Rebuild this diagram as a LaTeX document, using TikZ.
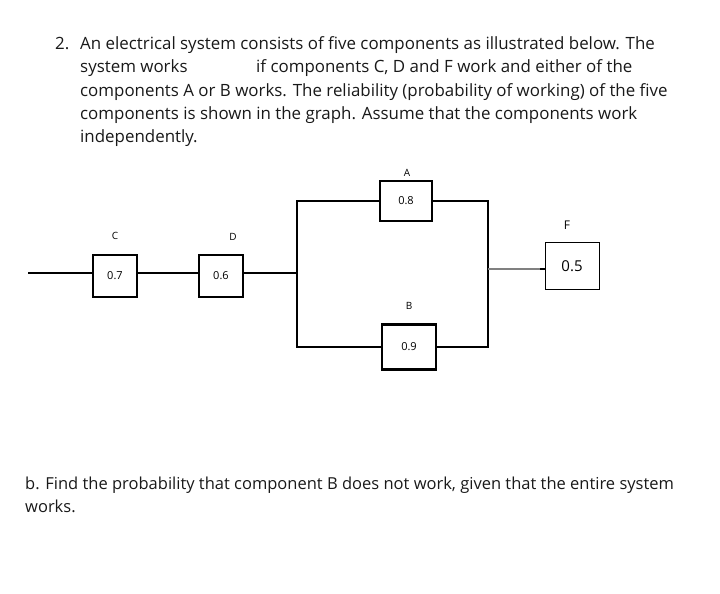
\documentclass[tikz,border=0pt]{standalone}
\usepackage{fontspec}
\setmainfont{Open Sans}
\begin{document}
\begin{tikzpicture}[x=1pt,y=-1pt,
  txt/.style={anchor=base west,inner sep=0,font=\fontsize{16.9}{22}\selectfont,text=black!90},
  box/.style={draw,line width=2.4pt,minimum width=44pt,minimum height=42pt,inner sep=0,font=\fontsize{11}{13}\selectfont},
  lbl/.style={inner sep=0,font=\fontsize{10}{12}\selectfont},
  wire/.style={line width=2.4pt}]
\useasboundingbox (0,0) rectangle (720,594);
\node[txt] (n2) at (55,50) {2.};
\node[txt] (l1) at (80,50) {An electrical system consists of five components as illustrated below. The};
\node[txt] (l2a) at (80,73) {system works};
\node[txt] (l2b) at (256,73) {if components C, D and F work and either of the};
\node[txt] (l3) at (80,96) {components A or B works. The reliability (probability of working) of the five};
\node[txt] (l4) at (80,119) {components is shown in the graph. Assume that the components work};
\node[txt] (l5) at (80,142) {independently.};
\node[txt,font=\fontsize{16.5}{22}\selectfont] (b1) at (25,489) {b. Find the probability that component B does not work, given that the entire system};
\node[txt,font=\fontsize{16.5}{22}\selectfont] (b2) at (25,512) {works.};
% boxes
\node[box] (C) at (115,276) {0.7};
\node[box] (D) at (221,276) {0.6};
\node[box,minimum width=52pt,minimum height=40pt] (A) at (406,201) {0.8};
\node[box,minimum width=54pt,minimum height=45pt] (B) at (409,347) {0.9};
\node[draw,line width=0.8pt,minimum width=54pt,minimum height=47pt,inner sep=0,font=\fontsize{15}{17}\selectfont] (F) at (572,266) {0.5};
\node[lbl] (lC) at (115,236) {C};
\node[lbl] (lD) at (233,237) {D};
\node[lbl] (lA) at (407,173) {A};
\node[lbl] (lB) at (409,306) {B};
\node[lbl,font=\fontsize{12}{14}\selectfont] (lF) at (567,225) {F};
\coordinate (s) at (28,273);
\coordinate (j1) at (297,273);
\coordinate (j2) at (488,273);
\coordinate (g) at (540,269);
\draw[wire] (s) -- (C.west |- s);
\draw[wire] (C.east |- s) -- (D.west |- s);
\draw[wire] (D.east |- s) -- (j1);
\draw[wire] (A.west) -| (j1) |- (B.west);
\draw[wire] (A.east) -| (j2) |- (B.east);
\draw[line width=2pt,gray] (488,269) -- (g);
\draw[line width=1.2pt] (g) -- (F.west |- g);
\end{tikzpicture}
\end{document}
